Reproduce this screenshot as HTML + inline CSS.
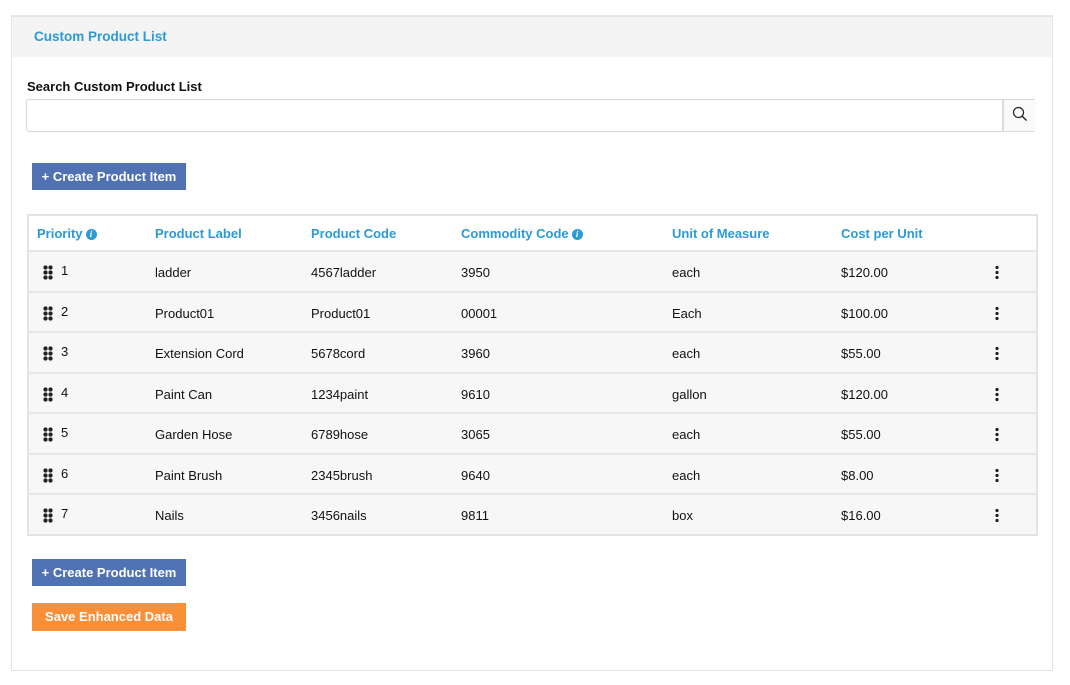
<!DOCTYPE html>
<html><head><style>
body{margin:0;width:1070px;height:685px;background:#fff;font-family:"Liberation Sans",Arial,sans-serif;position:relative;overflow:hidden}
.abs{position:absolute}
.box{left:11px;top:15px;width:1040px;height:653px;border:1px solid #e4e4e4;border-top:2px solid #e6e6e6}
.hdr{left:12px;top:17px;width:1040px;height:40px;background:#f4f4f4}
.t{color:#2b9ad6;font-weight:bold;font-size:13px}
.btn{left:32px;width:154px;height:27px;color:#fff;font-weight:bold;font-size:13px;line-height:27px;text-align:center}
.blue{background:#5172b2}
.tbl{left:27px;top:214px;width:1007px;height:318px;border:2px solid #e3e3e3;background:#fff}
.row{position:absolute;left:0;width:1007px;height:39px;background:#f7f7f7;border-top:2px solid #e6e6e6;font-size:13px;color:#111}
.row span{position:absolute;top:13px}
.hd span{position:absolute;top:10px;font-size:13px;font-weight:bold;color:#2b9ad6}
.info{display:inline-block;width:11px;height:11px;border-radius:50%;background:#2b9ad6;color:#fff;font-size:9px;line-height:11px;text-align:center;vertical-align:1px;margin-left:3px;font-family:"Liberation Serif",serif}
.grip{position:absolute;left:14px;top:13px;width:10px;height:15px;background:radial-gradient(circle,#222 2px,transparent 2.3px) 0 0/5px 5px}
.dots{position:absolute;left:966px;top:13px;width:4px;height:14px;background:radial-gradient(circle,#222 1.6px,transparent 1.8px) 0 0/4px 5px}
</style></head><body>
<div class="abs box"></div>
<div class="abs hdr"></div>
<div class="abs t" style="left:34px;top:29px;font-size:13.5px">Custom Product List</div>
<div class="abs" style="left:27px;top:79px;font-weight:bold;font-size:13px;color:#111">Search Custom Product List</div>
<div class="abs" style="left:26px;top:99px;width:1008px;height:31px;border:1px solid #d9d9d9;border-radius:3px"></div>
<div class="abs" style="left:1002px;top:100px;width:32px;height:31px;border-left:2px solid #ddd;background:#fafafa"></div>
<svg class="abs" style="left:1012px;top:106px" width="16" height="16"><circle cx="6.5" cy="6.5" r="5" fill="none" stroke="#222" stroke-width="1.2"/><line x1="10" y1="10" x2="14.5" y2="14.5" stroke="#222" stroke-width="1.4"/></svg>
<div class="abs btn blue" style="top:163px">+ Create Product Item</div>
<div class="abs tbl">
<div class="hd"><span style="left:8px">Priority<i class="info">i</i></span><span style="left:126px">Product Label</span><span style="left:282px">Product Code</span><span style="left:432px">Commodity Code<i class="info">i</i></span><span style="left:643px">Unit of Measure</span><span style="left:812px">Cost per Unit</span></div>
<div class="row" style="top:34px"><i class="grip"></i><span style="left:32px;top:11px">1</span><span style="left:126px">ladder</span><span style="left:282px">4567ladder</span><span style="left:432px">3950</span><span style="left:643px">each</span><span style="left:812px">$120.00</span><i class="dots"></i></div>
<div class="row" style="top:75px"><i class="grip"></i><span style="left:32px;top:11px">2</span><span style="left:126px">Product01</span><span style="left:282px">Product01</span><span style="left:432px">00001</span><span style="left:643px">Each</span><span style="left:812px">$100.00</span><i class="dots"></i></div>
<div class="row" style="top:115px"><i class="grip"></i><span style="left:32px;top:11px">3</span><span style="left:126px">Extension Cord</span><span style="left:282px">5678cord</span><span style="left:432px">3960</span><span style="left:643px">each</span><span style="left:812px">$55.00</span><i class="dots"></i></div>
<div class="row" style="top:156px"><i class="grip"></i><span style="left:32px;top:11px">4</span><span style="left:126px">Paint Can</span><span style="left:282px">1234paint</span><span style="left:432px">9610</span><span style="left:643px">gallon</span><span style="left:812px">$120.00</span><i class="dots"></i></div>
<div class="row" style="top:196px"><i class="grip"></i><span style="left:32px;top:11px">5</span><span style="left:126px">Garden Hose</span><span style="left:282px">6789hose</span><span style="left:432px">3065</span><span style="left:643px">each</span><span style="left:812px">$55.00</span><i class="dots"></i></div>
<div class="row" style="top:237px"><i class="grip"></i><span style="left:32px;top:11px">6</span><span style="left:126px">Paint Brush</span><span style="left:282px">2345brush</span><span style="left:432px">9640</span><span style="left:643px">each</span><span style="left:812px">$8.00</span><i class="dots"></i></div>
<div class="row" style="top:277px"><i class="grip"></i><span style="left:32px;top:11px">7</span><span style="left:126px">Nails</span><span style="left:282px">3456nails</span><span style="left:432px">9811</span><span style="left:643px">box</span><span style="left:812px">$16.00</span><i class="dots"></i></div>
</div>
<div class="abs btn blue" style="top:559px">+ Create Product Item</div>
<div class="abs btn" style="top:603px;height:28px;background:#f98f38">Save Enhanced Data</div>
</body></html>
